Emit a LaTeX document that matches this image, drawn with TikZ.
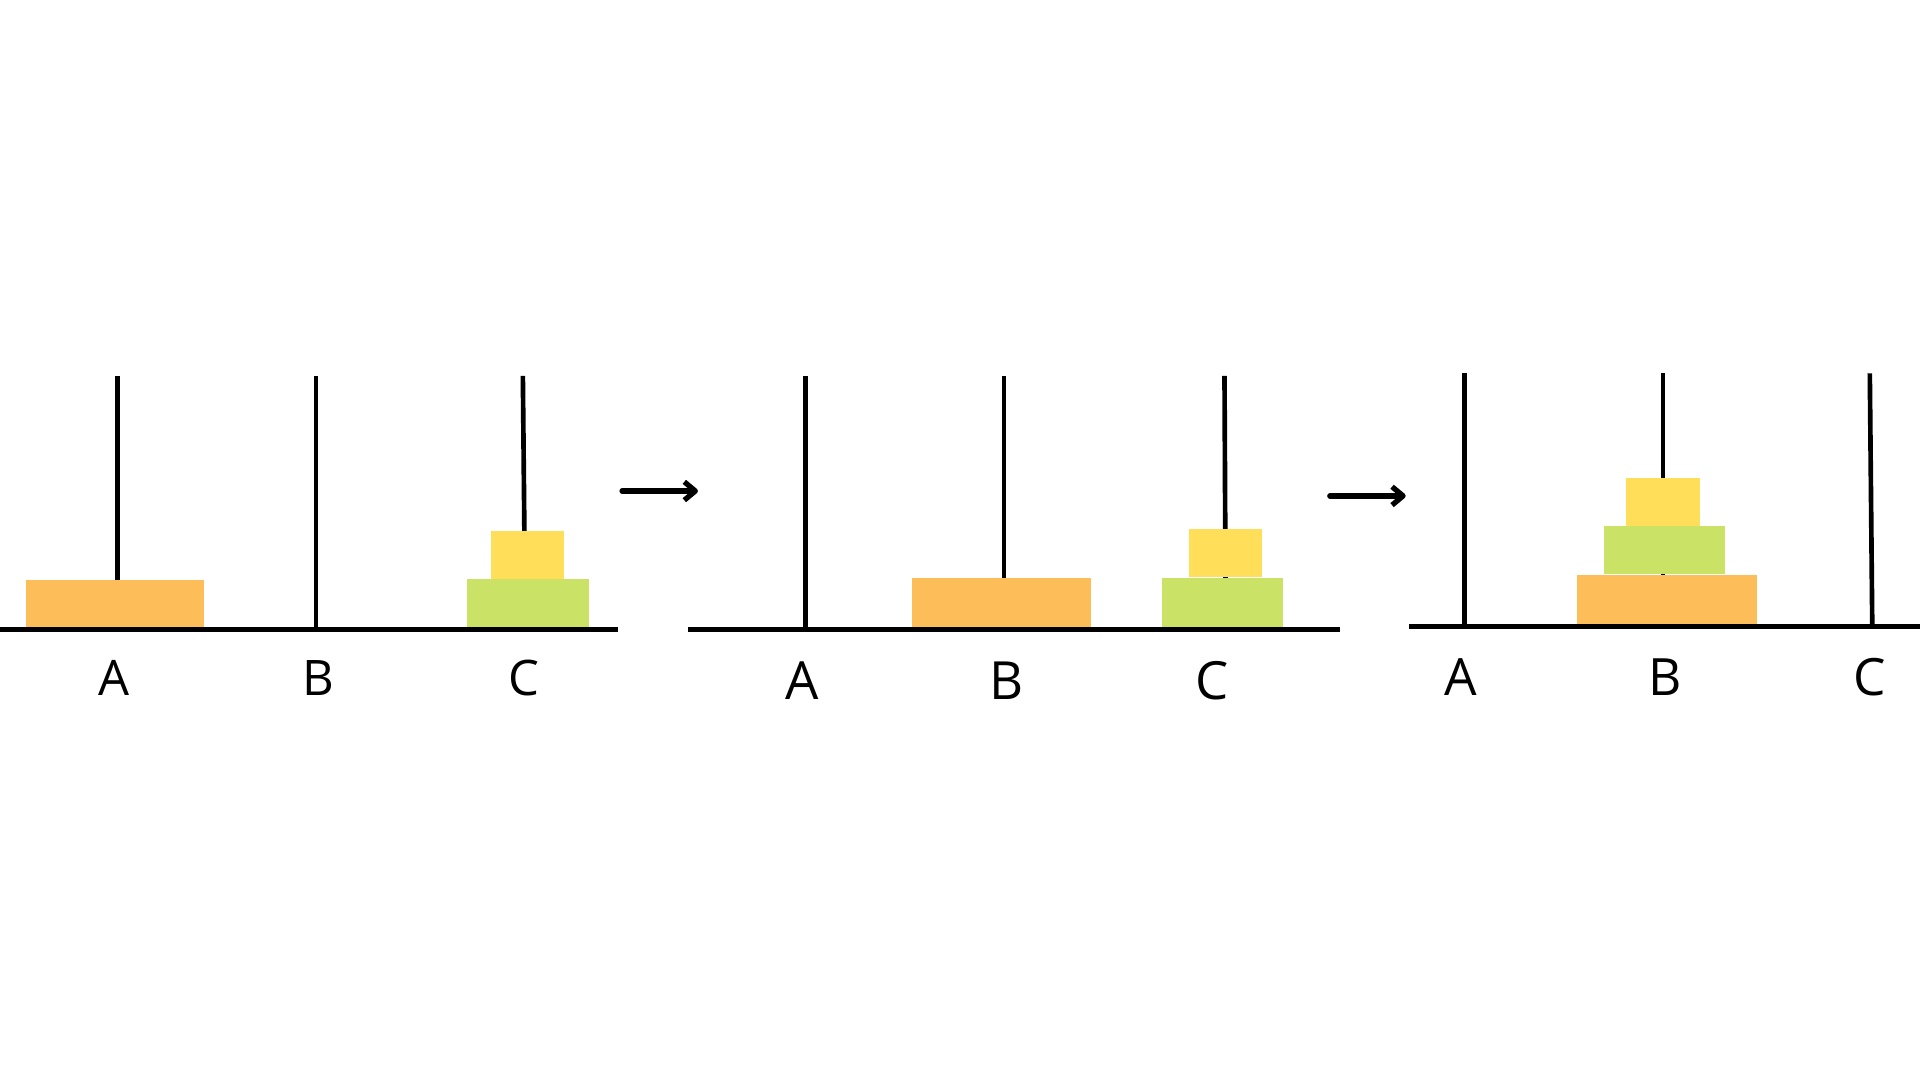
\documentclass[tikz,border=0pt]{standalone}
\usepackage{fontspec}
\setmainfont{Open Sans}
\usetikzlibrary{arrows.meta,positioning}
\definecolor{diskorange}{HTML}{FDBD59}
\definecolor{diskgreen}{HTML}{CAE266}
\definecolor{diskyellow}{HTML}{FFDE59}
\tikzstyle{disk}=[
	rectangle,
	inner sep=0pt,
	outer sep=0pt,
	minimum height=39.5pt
]
\tikzstyle{peg}=[
	line width=3.8pt
]
\tikzstyle{floor}=[
	line width=4.2pt
]
\tikzstyle{move}=[
	line width=4.3pt,
	line cap=round,
	-{Straight Barb[length=9pt,width=15pt,line join=round]}
]
\tikzstyle{rodlabel}=[
	anchor=base,
	inner sep=0pt
]

\begin{document}
\begin{tikzpicture}[x=1pt,y=-1pt]
\useasboundingbox (0,0) rectangle (1568,882);
% state 1
\coordinate (topA1) at (96,307);
\coordinate (footA1) at (96,512);
\coordinate (topB1) at (258,307);
\coordinate (footB1) at (258,512);
\coordinate (topC1) at (427,307);
\coordinate (footC1) at (429,512);
\draw [peg] (topA1) -- (footA1);
\draw [peg] (topB1) -- (footB1);
\draw [peg] (topC1) -- (footC1);
\node [disk, fill=diskorange, minimum width=146pt, minimum height=38.5pt, anchor=south] (big1) at (94,512) {};
\node [disk, fill=diskgreen, minimum width=100pt, anchor=south] (mid1) at (431,512) {};
\node [disk, fill=diskyellow, minimum width=60pt, minimum height=39pt] (small1)[above=0pt of mid1] {};
\coordinate (floorL1) at (0,514);
\coordinate (floorR1) at (505,514);
\draw [floor] (floorL1) -- (floorR1);
\node [rodlabel, font=\fontsize{40}{40}\selectfont] (labA1) at (93,568) {A};
\node [rodlabel, font=\fontsize{40}{40}\selectfont] (labB1) at (260,568) {B};
\node [rodlabel, font=\fontsize{40}{40}\selectfont] (labC1) at (428,568) {C};
% arrow 1
\coordinate (from1) at (508,401);
\coordinate (to1) at (570,401);
\draw [move] (from1) -- (to1);
% state 2
\coordinate (topA2) at (658,307);
\coordinate (footA2) at (658,512);
\coordinate (topB2) at (820,307);
\coordinate (footB2) at (820,512);
\coordinate (topC2) at (1000,307);
\coordinate (footC2) at (1001,512);
\draw [peg] (topA2) -- (footA2);
\draw [peg] (topB2) -- (footB2);
\draw [peg] (topC2) -- (footC2);
\node [disk, fill=diskorange, minimum width=146pt, minimum height=40pt, anchor=south] (big2) at (818,512) {};
\node [disk, fill=diskgreen, minimum width=99pt, minimum height=40pt, anchor=south] (mid2) at (998.5,512) {};
\node [disk, fill=diskyellow, minimum width=60pt, anchor=south] (small2) at (1001,471.5) {};
\coordinate (floorL2) at (562,514);
\coordinate (floorR2) at (1094,514);
\draw [floor] (floorL2) -- (floorR2);
\node [rodlabel, font=\fontsize{43}{43}\selectfont] (labA2) at (655,571) {A};
\node [rodlabel, font=\fontsize{43}{43}\selectfont] (labB2) at (822,571) {B};
\node [rodlabel, font=\fontsize{43}{43}\selectfont] (labC2) at (990,571) {C};
% arrow 2
\coordinate (from2) at (1086,405);
\coordinate (to2) at (1148,405);
\draw [move] (from2) -- (to2);
% state 3
\coordinate (topA3) at (1196,305);
\coordinate (footA3) at (1196,510);
\coordinate (topB3) at (1358,305);
\coordinate (footB3) at (1358,510);
\coordinate (topC3) at (1527,305);
\coordinate (footC3) at (1529,510);
\draw [peg] (topA3) -- (footA3);
\draw [peg] (topB3) -- (footB3);
\draw [peg] (topC3) -- (footC3);
\node [disk, fill=diskorange, minimum width=147pt, minimum height=40.5pt, anchor=south] (big3) at (1361.5,510) {};
\node [disk, fill=diskgreen, minimum width=99pt, minimum height=39pt] (mid3)[above=1pt of big3, xshift=-2pt] {};
\node [disk, fill=diskyellow, minimum width=60pt, minimum height=39pt] (small3)[above=0pt of mid3, xshift=-1.5pt] {};
\coordinate (floorL3) at (1151,511.5);
\coordinate (floorR3) at (1568,511.5);
\draw [floor] (floorL3) -- (floorR3);
\node [rodlabel, font=\fontsize{42}{42}\selectfont] (labA3) at (1193,568) {A};
\node [rodlabel, font=\fontsize{42}{42}\selectfont] (labB3) at (1360,568) {B};
\node [rodlabel, font=\fontsize{42}{42}\selectfont] (labC3) at (1527,568) {C};
\end{tikzpicture}
\end{document}
